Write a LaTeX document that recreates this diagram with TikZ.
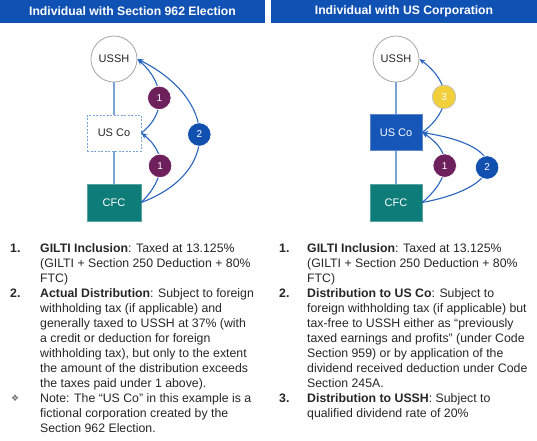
\documentclass[tikz,border=0pt]{standalone}
\usepackage{fontspec}
\setmainfont{Liberation Sans}
\newfontfamily\dingfont{DejaVu Sans}
\usetikzlibrary{arrows.meta}

\definecolor{hdrblue}{RGB}{16,82,180}
\definecolor{boxblue}{RGB}{22,86,184}
\definecolor{cfcteal}{RGB}{14,124,120}
\definecolor{linkblue}{RGB}{120,165,215}
\definecolor{flowblue}{RGB}{40,100,190}
\definecolor{badgeplum}{RGB}{110,32,92}
\definecolor{badgeblue}{RGB}{18,80,176}
\definecolor{badgegold}{RGB}{242,208,60}
\definecolor{txtgray}{RGB}{38,38,38}

\begin{document}
\begin{tikzpicture}[x=1pt,y=1pt,yscale=-1,
  hdr/.style={fill=hdrblue, minimum height=23, inner sep=0, text=white, font=\fontsize{12.2}{14}\selectfont\bfseries},
  ussh/.style={circle, draw=black!35, line width=0.8, fill=white, minimum size=46, inner sep=0, text=txtgray, font=\fontsize{11}{13}\selectfont},
  entity/.style={rectangle, minimum width=54, minimum height=36, inner sep=0, font=\fontsize{11}{13}\selectfont},
  link/.style={draw=linkblue, line width=1.1},
  flow/.style={draw=flowblue, line width=1.1, -{Stealth[length=6pt,width=5pt]}},
  badge/.style={circle, minimum size=23.5, inner sep=0, draw=white, line width=0.7, text=white, font=\fontsize{10}{12}\selectfont},
  body/.style={anchor=north west, inner sep=0, align=left, text=txtgray, font=\fontsize{12.3}{15}\selectfont}]
\useasboundingbox (0,0) rectangle (537,440);

% headers
\node[hdr, minimum width=265] (hdrL) at (132.5,11.5) {Individual with Section 962 Election};
\node[hdr, minimum width=266] (hdrR) at (404,11.5) {Individual with US Corporation};

% left diagram
\node[ussh] (usshL) at (114,59) {USSH};
\node[entity, draw=linkblue, dash pattern=on 2pt off 1.5pt, line width=0.9, fill=white, text=txtgray] (uscoL) at (114,133) {US Co};
\node[entity, fill=cfcteal, draw=cfcteal!70!white, text=white, minimum height=37] (cfcL) at (114,202.5) {CFC};
\draw[link] (usshL) -- (uscoL);
\draw[link] (uscoL) -- (cfcL);

\draw[flow] (cfcL.east) .. controls +(25,-25) and +(25,20) .. (uscoL.east)
  node[pos=.5, badge, fill=badgeplum] (b1La) {1};
\draw[flow] (uscoL.east) .. controls +(25,-20) and +(28,25) .. (usshL.east)
  node[pos=.5, badge, fill=badgeplum] (b1Lb) {1};
\draw[flow] (cfcL.east) .. controls +(80,-30) and +(80,40) .. (usshL.east)
  node[pos=.5, badge, fill=badgeblue] (b2L) {2};

% right diagram
\node[ussh] (usshR) at (396,59) {USSH};
\node[entity, fill=boxblue, draw=boxblue!70!white, text=white, minimum width=52] (uscoR) at (396,132.5) {US Co};
\node[entity, fill=cfcteal, draw=cfcteal!70!white, text=white, minimum width=52, minimum height=37] (cfcR) at (396,202.5) {CFC};
\draw[link] (usshR) -- (uscoR);
\draw[link] (uscoR) -- (cfcR);

\draw[flow] (uscoR.east) .. controls +(29,-22) and +(33,25) .. (usshR.east)
  node[pos=.5, badge, fill=badgegold, draw=black!25] (b3R) {3};
\draw[flow] (cfcR.east) .. controls +(29,-25) and +(31,20) .. (uscoR.east)
  node[pos=.5, badge, fill=badgeplum] (b1R) {1};
\draw[flow] (cfcR.east) .. controls +(80,-15) and +(93,15) .. (uscoR.east)
  node[pos=.5, badge, fill=badgeblue] (b2R) {2};

% left notes
\node[body] (n1L) at (10,243.5) {\textbf{1.}};
\node[body] (t1L) at (40,243.5) {\textbf{GILTI Inclusion}: Taxed at 13.125\%\\(GILTI + Section 250 Deduction + 80\%\\FTC)};
\node[body] (n2L) at (10,288.5) {\textbf{2.}};
\node[body] (t2L) at (40,288.5) {\textbf{Actual Distribution}: Subject to foreign\\withholding tax (if applicable) and\\generally taxed to USSH at 37\% (with\\a credit or deduction for foreign\\withholding tax), but only to the extent\\the amount of the distribution exceeds\\the taxes paid under 1 above).};
\node[body, font=\fontsize{9}{11}\selectfont\dingfont, text=black!55] (n3L) at (11,395) {❖};
\node[body] (t3L) at (40,393.5) {Note: The “US Co” in this example is a\\fictional corporation created by the\\Section 962 Election.};

% right notes
\node[body] (n1R) at (279,243.5) {\textbf{1.}};
\node[body] (t1R) at (307,243.5) {\textbf{GILTI Inclusion}: Taxed at 13.125\%\\(GILTI + Section 250 Deduction + 80\%\\FTC)};
\node[body] (n2R) at (279,288.5) {\textbf{2.}};
\node[body] (t2R) at (307,288.5) {\textbf{Distribution to US Co}: Subject to\\foreign withholding tax (if applicable) but\\tax-free to USSH either as “previously\\taxed earnings and profits” (under Code\\Section 959) or by application of the\\dividend received deduction under Code\\Section 245A.};
\node[body] (n3R) at (279,393.5) {\textbf{3.}};
\node[body] (t3R) at (307,393.5) {\textbf{Distribution to USSH}: Subject to\\qualified dividend rate of 20\%};

\end{tikzpicture}
\end{document}
